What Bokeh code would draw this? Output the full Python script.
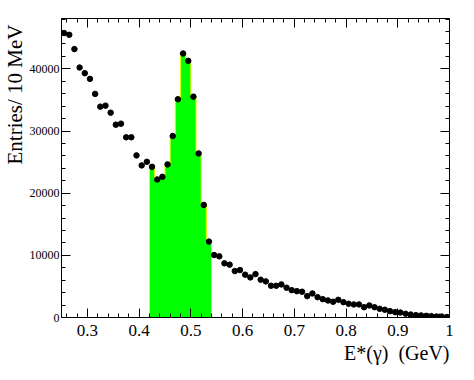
import numpy as np
from bokeh.plotting import figure
from bokeh.models import Range1d, LinearAxis, FixedTicker, Title, CustomJSTickFormatter
from bokeh.embed import file_html
from bokeh.resources import INLINE

# ---- data ----
bin_low = 0.25
bin_width = 0.01
counts = [45760, 45480, 43180, 40210, 39300, 38390, 35970, 33920, 34080, 32950,
          31020, 31180, 28990, 28990, 26080, 24470, 25050, 24240, 22210, 22630,
          24630, 29200, 35110, 42470, 41290, 35530, 26400, 18110, 12210, 10050,
          9840, 8710, 8500, 7470, 7630, 6890, 6450, 6980, 6080, 5810,
          5110, 5110, 5320, 4790, 4400, 4240, 4150, 3440, 3870, 3270,
          2950, 2740, 2530, 2850, 2470, 2210, 2100, 2100, 1660, 1940,
          1660, 1400, 1250, 1020, 860, 800, 590, 480, 380, 330,
          270, 220, 160, 160, 80]
signal_lo, signal_hi = 0.42, 0.54
x_ticks = [0.3, 0.4, 0.5, 0.6, 0.7, 0.8, 0.9, 1.0]
x_tick_labels = ["0.3", "0.4", "0.5", "0.6", "0.7", "0.8", "0.9", "1"]
y_ticks = [0, 10000, 20000, 30000, 40000]
y_tick_labels = ["0", "10000", "20000", "30000", "40000"]
x_minor = [round(0.26 + 0.02 * i, 2) for i in range(38)]
y_minor = [2000 * i for i in range(25)]
y_title = "Entries/ 10 MeV"
x_title = "E*(γ)\u00a0\u00a0(GeV)"

counts = np.array(counts, dtype=float)
edges = bin_low + bin_width * np.arange(len(counts) + 1)
centers = 0.5 * (edges[:-1] + edges[1:])
sel = (edges[:-1] >= signal_lo - 1e-9) & (edges[1:] <= signal_hi + 1e-9)

FONT = "'Liberation Serif', 'Times New Roman', serif"

p = figure(width=474, height=380, x_range=Range1d(0.25, 1.0), y_range=Range1d(0, 48100),
           output_backend="svg", toolbar_location=None,
           min_border_left=0, min_border_right=25, min_border_top=18, min_border_bottom=63)
p.xgrid.visible = False
p.ygrid.visible = False
p.outline_line_color = "black"
p.outline_line_width = 1
p.background_fill_color = "white"
p.border_fill_color = "white"

# signal histogram (single outline polygon, no seams)
sl = edges[:-1][sel]
sr = edges[1:][sel]
sc = counts[sel]
step_x = [sl[0]]
step_y = [0.0]
for l, r, c in zip(sl, sr, sc):
    step_x += [l, r]
    step_y += [c, c]
step_x.append(sr[-1])
step_y.append(0.0)
p.patch(step_x, step_y, fill_color="#00ff00", line_color=None)
p.line(step_x, step_y, line_color="#e8ff00", line_width=1)

# data points
p.scatter(centers, counts, size=5.5, color="black")

def style_axis(ax, ticks, minor, labels, fs, standoff, show=True):
    ax.ticker = FixedTicker(ticks=ticks, minor_ticks=minor)
    ax.major_tick_in = 9
    ax.major_tick_out = 0
    ax.minor_tick_in = 4
    ax.minor_tick_out = 0
    ax.axis_line_color = "black"
    ax.major_tick_line_color = "black"
    ax.minor_tick_line_color = "black"
    if show:
        ax.major_label_overrides = dict(zip(ticks, labels))
        ax.major_label_text_font = FONT
        ax.major_label_text_font_size = fs
        ax.major_label_standoff = standoff
        ax.major_label_text_color = "black"
    else:
        ax.formatter = CustomJSTickFormatter(code="return ''")
        ax.major_label_text_font_size = "0px"
        ax.major_label_standoff = 0

style_axis(p.xaxis[0], x_ticks, x_minor, x_tick_labels, "17px", 7)
style_axis(p.yaxis[0], y_ticks, y_minor, y_tick_labels, "12px", 2)

top = LinearAxis()
style_axis(top, x_ticks, x_minor, x_tick_labels, "0px", 0, show=False)
p.add_layout(top, "above")
right = LinearAxis()
style_axis(right, y_ticks, y_minor, y_tick_labels, "0px", 0, show=False)
p.add_layout(right, "right")

# axis titles
p.add_layout(Title(text=y_title, align="right", offset=6, standoff=0,
                   text_font=FONT, text_font_size="21px", text_font_style="normal",
                   text_color="black"), "left")
p.add_layout(Title(text=x_title, align="right", offset=0, standoff=3,
                   text_font=FONT, text_font_size="20px", text_font_style="normal",
                   text_color="black"), "below")

open("out.html", "w").write(file_html(p, INLINE))
